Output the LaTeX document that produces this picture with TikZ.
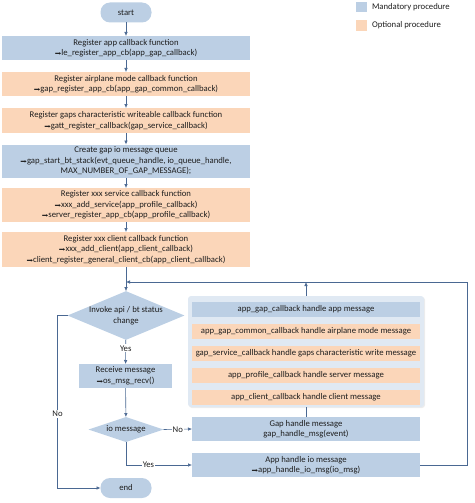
\documentclass[tikz,border=0pt]{standalone}
\usepackage{fontspec}
\setmainfont{Carlito}
\newfontfamily\symfont{DejaVu Sans}
\usetikzlibrary{shapes.geometric,arrows.meta,shadows}
\definecolor{mblue}{RGB}{188,207,228}
\definecolor{morange}{RGB}{251,214,185}
\definecolor{mcont}{RGB}{224,233,243}
\definecolor{mline}{RGB}{74,104,146}
\definecolor{mtext}{RGB}{30,30,30}
\newcommand{\arr}{{\symfont\scalebox{0.9}[0.6]{➡}}}
\begin{document}
\begin{tikzpicture}[x=1pt,y=-1pt,
  font=\fontsize{8.7}{10.5}\selectfont, text=mtext,
  every node/.style={inner sep=0pt, outer sep=0pt},
  bluebox/.style={fill=mblue, draw=none, align=center, minimum width=248pt},
  orbox/.style={fill=morange, draw=none, align=center, minimum width=248pt},
  innerblue/.style={fill=mblue, align=center, minimum width=228pt, minimum height=15pt},
  innerorange/.style={fill=morange, align=center, minimum width=228pt, minimum height=15pt},
  term/.style={fill=mblue, rounded corners=9.5pt, minimum width=51pt, minimum height=20pt},
  decision/.style={diamond, fill=mblue, aspect=2.4, align=center, inner sep=0pt},
  conn/.style={draw=mline, line width=0.6pt},
  arrow/.style={conn, -{Latex[length=4pt,width=3.5pt]}},
  lbl/.style={fill=white, inner sep=1pt}
]
\useasboundingbox (0,0) rectangle (474,503);

% legend
\node[fill=mblue, minimum width=11pt, minimum height=10pt] (legb) at (361.5,7.5) {};
\node[anchor=west] (legbt) at (372,7.5) {Mandatory procedure};
\node[fill=morange, minimum width=11pt, minimum height=11pt] (lego) at (361.5,25.5) {};
\node[anchor=west] (legot) at (372,25.5) {Optional procedure};

% main column
\node[term] (start) at (126,12.5) {start};
\node[bluebox, minimum height=24pt] (b1) at (126,48) {Register app callback function\\\arr le\_register\_app\_cb(app\_gap\_callback)};
\node[orbox, minimum height=24pt] (b2) at (126,84) {Register airplane mode callback function\\\arr gap\_register\_app\_cb(app\_gap\_common\_callback)};
\node[orbox, minimum height=25pt] (b3) at (126,120.5) {Register gaps characteristic writeable callback function\\\arr gatt\_register\_callback(gap\_service\_callback)};
\node[bluebox, minimum height=33pt] (b4) at (126,161) {Create gap io message queue\\\arr gap\_start\_bt\_stack(evt\_queue\_handle, io\_queue\_handle,\\MAX\_NUMBER\_OF\_GAP\_MESSAGE);};
\node[orbox, minimum height=34pt] (b5) at (126,205) {Register xxx service callback function\\\arr xxx\_add\_service(app\_profile\_callback)\\\arr server\_register\_app\_cb(app\_profile\_callback)};
\node[orbox, minimum height=35pt] (b6) at (126,249.5) {Register xxx client callback function\\\arr xxx\_add\_client(app\_client\_callback)\\\arr client\_register\_general\_client\_cb(app\_client\_callback)};

\coordinate (j1) at (126,282);
\node[decision, minimum width=110pt, minimum height=45pt] (d1) at (126,315.5) {Invoke api / bt status\\change};
\node[fill=mblue, align=center, minimum width=93pt, minimum height=24pt] (recv) at (125.5,376) {Receive message\\\arr os\_msg\_recv()};
\node[decision, minimum width=75pt, minimum height=25pt] (d2) at (126,429.5) {io message};
\node[term] (end) at (126,488) {end};

% container
\node[fill=mcont, rounded corners=3pt, minimum width=236pt, minimum height=111pt, drop shadow={opacity=0.15, shadow xshift=1pt, shadow yshift=-1pt}] (cont) at (306,351.5) {};
\node[innerblue] (c1) at (306,309.5) {app\_gap\_callback handle app message};
\node[innerorange] (c2) at (306,331.5) {app\_gap\_common\_callback handle airplane mode message};
\node[innerorange] (c3) at (306,353.5) {gap\_service\_callback handle gaps characteristic write message};
\node[innerorange] (c4) at (306,375.5) {app\_profile\_callback handle server message};
\node[innerorange] (c5) at (306,397.5) {app\_client\_callback handle client message};

\node[fill=mblue, align=center, minimum width=228pt, minimum height=24pt] (gap) at (306,429) {Gap handle message\\gap\_handle\_msg(event)};
\node[fill=mblue, align=center, minimum width=228pt, minimum height=24pt] (app) at (306,465) {App handle io message\\\arr app\_handle\_io\_msg(io\_msg)};

% connectors
\draw[arrow] (start) -- (b1);
\draw[arrow] (b1) -- (b2);
\draw[arrow] (b2) -- (b3);
\draw[arrow] (b3) -- (b4);
\draw[arrow] (b4) -- (b5);
\draw[arrow] (b5) -- (b6);
\draw[arrow] (b6) -- (d1);
\draw[arrow] (app.east) -- ++(47,0) |- (j1);
\draw[arrow] (cont.north) -- (cont.north |- j1);
\draw[arrow] (d1) -- node[lbl, pos=0.35] (yes1) {Yes} (recv);
\draw[arrow] (recv) -- (d2);
\draw[arrow] (d2.east) -- node[lbl] (no2) {No} (gap.west);
\draw[arrow] (d2.south) |- node[lbl, pos=0.67] (yes2) {Yes} (app.west);
\draw[arrow] (d1.west) -- ++(-10,0) |- node[lbl, pos=0.286] (no1) {No} (end.west);
\draw[conn] (cont.south) -- (gap.north);
\end{tikzpicture}
\end{document}
